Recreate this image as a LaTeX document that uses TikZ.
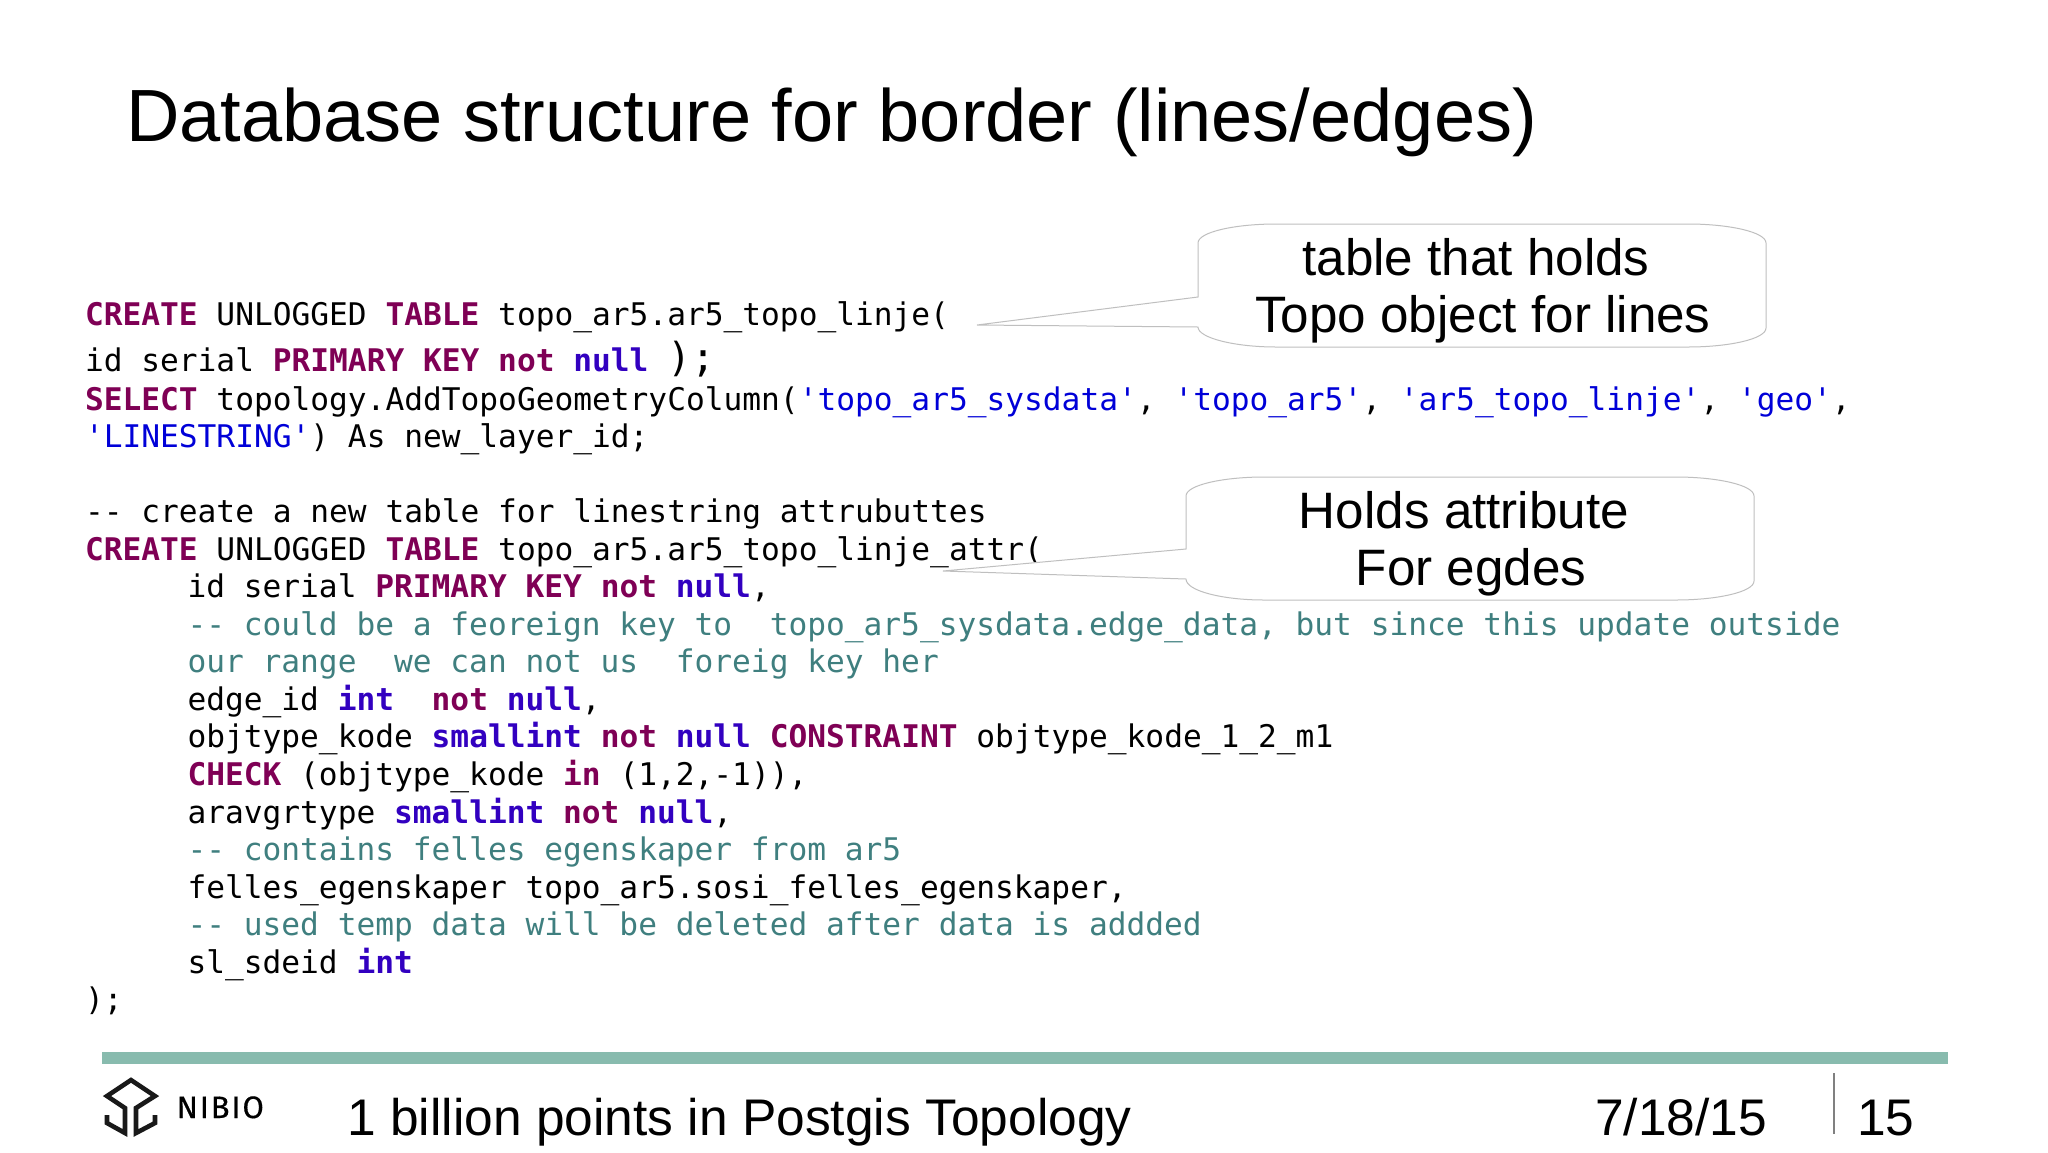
\documentclass[tikz,border=0pt]{standalone}
\usepackage{fontspec}
\setmainfont{Liberation Sans}
\setmonofont{DejaVu Sans Mono}
\newfontfamily\nibiofont[LetterSpace=6,FakeBold=0.4]{Fira Sans}
\definecolor{kwcol}{HTML}{7F0055}
\definecolor{tycol}{HTML}{3200C0}
\definecolor{stcol}{HTML}{0000D8}
\definecolor{cmcol}{HTML}{3F7F7F}
\definecolor{barcol}{HTML}{88BBAE}
\newcommand{\kwd}[1]{\textcolor{kwcol}{\bfseries #1}}
\newcommand{\typ}[1]{\textcolor{tycol}{\bfseries #1}}
\newcommand{\strg}[1]{\textcolor{stcol}{#1}}
\newcommand{\cmt}[1]{\textcolor{cmcol}{#1}}
\tikzset{
  code/.style={anchor=base west,inner sep=0pt,outer sep=0pt,font=\ttfamily\fontsize{31.2}{37}\selectfont},
  bubble/.style={draw=black!25,line width=1pt,fill=white},
  bubbletext/.style={anchor=base,inner sep=0pt,font=\fontsize{51.2}{60}\selectfont},
  foot/.style={anchor=base west,inner sep=0pt,font=\fontsize{51.5}{60}\selectfont},
  logoline/.style={line width=4.6pt,line join=miter,black!90}
}
\begin{document}
\begin{tikzpicture}[x=1pt,y=-1pt]
\useasboundingbox (0,0) rectangle (2048,1152);
\fill[white] (0,0) rectangle (2048,1152);
\node[anchor=base west,inner sep=0pt,font=\fontsize{74}{80}\selectfont] (title) at (126,141) {Database structure for border (lines/edges)};

% code block
\node[code] (l1) at (85,325) {\kwd{CREATE} UNLOGGED \kwd{TABLE} topo\_ar5.ar5\_topo\_linje(};
\node[code] (l2) at (85,371) {id serial \kwd{PRIMARY KEY} \kwd{not} \typ{null}};
\node[code,font=\ttfamily\fontsize{40}{44}\selectfont] (l2b) at (667,371) {);};
\node[code] (l3) at (85,410) {\kwd{SELECT} topology.AddTopoGeometryColumn(\strg{'topo\_ar5\_sysdata'}, \strg{'topo\_ar5'}, \strg{'ar5\_topo\_linje'}, \strg{'geo'},};
\node[code] (l4) at (85,447) {\strg{'LINESTRING'}) As new\_layer\_id;};
\node[code] (l5) at (85,522.5) {-{}- create a new table for linestring attrubuttes};
\node[code] (l6) at (85,560) {\kwd{CREATE} UNLOGGED \kwd{TABLE} topo\_ar5.ar5\_topo\_linje\_attr(};
\node[code] (l7) at (187.5,597.5) {id serial \kwd{PRIMARY KEY} \kwd{not} \typ{null},};
\node[code] (l8) at (187.5,635) {\cmt{-{}- could be a feoreign key to\ \ topo\_ar5\_sysdata.edge\_data, but since this update outside}};
\node[code] (l9) at (187.5,672.5) {\cmt{our range\ \ we can not us\ \ foreig key her}};
\node[code] (l10) at (187.5,710) {edge\_id \typ{int}\ \ \kwd{not} \typ{null},};
\node[code] (l11) at (187.5,747.5) {objtype\_kode \typ{smallint} \kwd{not} \typ{null} \kwd{CONSTRAINT} objtype\_kode\_1\_2\_m1};
\node[code] (l12) at (187.5,785) {\kwd{CHECK} (objtype\_kode \kwd{in} (1,2,-1)),};
\node[code] (l13) at (187.5,823) {aravgrtype \typ{smallint} \kwd{not} \typ{null},};
\node[code] (l14) at (187.5,860) {\cmt{-{}- contains felles egenskaper from ar5}};
\node[code] (l15) at (187.5,898) {felles\_egenskaper topo\_ar5.sosi\_felles\_egenskaper,};
\node[code] (l16) at (187.5,935) {\cmt{-{}- used temp data will be deleted after data is addded}};
\node[code] (l17) at (187.5,973) {sl\_sdeid \typ{int}};
\node[code] (l18) at (85,1010) {);};

% callouts
\coordinate (tip1) at (977,325);
\coordinate (tip2) at (943,571);
\draw[bubble] (tip1) -- (1198,297) -- (1198,243)
  .. controls (1198,232) and (1235,224) .. (1276,224) -- (1688,224)
  .. controls (1729,224) and (1766,232) .. (1766,243) -- (1766,328)
  .. controls (1766,339) and (1729,347) .. (1688,347) -- (1276,347)
  .. controls (1235,347) and (1198,338) .. (1198,327) -- cycle;
\draw[bubble] (tip2) -- (1186,549) -- (1186,496)
  .. controls (1186,485) and (1223,477) .. (1264,477) -- (1676,477)
  .. controls (1717,477) and (1754,485) .. (1754,496) -- (1754,581)
  .. controls (1754,592) and (1717,600) .. (1676,600) -- (1264,600)
  .. controls (1223,600) and (1186,591) .. (1186,579) -- cycle;
\node[bubbletext] (c1a) at (1476,275) {table that holds};
\node[bubbletext] (c1b) at (1483,332) {Topo object for lines};
\node[bubbletext] (c2a) at (1464,528) {Holds attribute};
\node[bubbletext] (c2b) at (1471,585) {For egdes};

% footer
\fill[barcol] (102,1052) rectangle (1948,1064);
\draw[line width=1.3pt,black!50] (1834,1073) -- (1834,1134);
\draw[logoline] (107,1115) -- (107,1123) -- (125,1133) -- (125,1108) -- (107,1096) -- (131,1080) -- (155,1096) -- (136,1108) -- (136,1133) -- (155,1123) -- (155,1115);
\node[anchor=base west,inner sep=0pt,font=\nibiofont\fontsize{31}{36}\selectfont] (nibio) at (176.5,1118) {NIBIO};
\node[foot] (ftitle) at (347,1135) {1 billion points in Postgis Topology};
\node[foot] (fdate) at (1595,1135) {7/18/15};
\node[foot] (fpage) at (1857,1135) {15};
\end{tikzpicture}
\end{document}
